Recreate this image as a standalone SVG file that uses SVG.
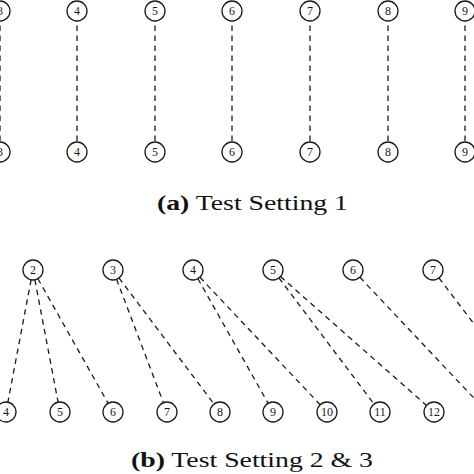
<svg xmlns="http://www.w3.org/2000/svg" width="474" height="474" viewBox="0 0 474 474">
<style>
.n circle{fill:#fff;stroke:#1a1a1a;stroke-width:1.3}
.n text{font-family:"Liberation Serif","DejaVu Serif",serif;font-size:12px;text-anchor:middle;fill:#1a1a1a}
#edges line{stroke:#1a1a1a;stroke-width:1.3;stroke-dasharray:5.5,4.5;fill:none}
.cap{font-family:"Liberation Serif","DejaVu Serif",serif;font-size:21px;fill:#111}
</style>
<rect width="474" height="474" fill="#fff"/>
<g id="edges">
<line x1="0" y1="141" x2="0" y2="21"/>
<line x1="77" y1="141" x2="77" y2="21"/>
<line x1="155" y1="141" x2="155" y2="21"/>
<line x1="232" y1="141" x2="232" y2="21"/>
<line x1="310" y1="141" x2="310" y2="21"/>
<line x1="388" y1="141" x2="388" y2="21"/>
<line x1="465" y1="141" x2="465" y2="21"/>
<line x1="31.1" y1="279.8" x2="7.9" y2="402.2"/>
<line x1="34.9" y1="279.8" x2="58.1" y2="402.2"/>
<line x1="37.9" y1="278.7" x2="108.1" y2="403.3"/>
<line x1="116.6" y1="279.3" x2="163.4" y2="402.7"/>
<line x1="119" y1="278" x2="214" y2="404"/>
<line x1="197.9" y1="278.7" x2="268.1" y2="403.3"/>
<line x1="199.9" y1="277.3" x2="320.1" y2="404.7"/>
<line x1="279" y1="278" x2="374" y2="404"/>
<line x1="280.5" y1="276.6" x2="426.5" y2="405.4"/>
<line x1="359.9" y1="277.3" x2="480.1" y2="404.7"/>
<line x1="439" y1="278" x2="535" y2="404"/>
</g>
<g id="a-top">
<g class="n" id="a3t"><circle cx="0" cy="11" r="10"/><text x="0" y="15">3</text></g>
<g class="n" id="a4t"><circle cx="77" cy="11" r="10"/><text x="77" y="15">4</text></g>
<g class="n" id="a5t"><circle cx="155" cy="11" r="10"/><text x="155" y="15">5</text></g>
<g class="n" id="a6t"><circle cx="232" cy="11" r="10"/><text x="232" y="15">6</text></g>
<g class="n" id="a7t"><circle cx="310" cy="11" r="10"/><text x="310" y="15">7</text></g>
<g class="n" id="a8t"><circle cx="388" cy="11" r="10"/><text x="388" y="15">8</text></g>
<g class="n" id="a9t"><circle cx="465" cy="11" r="10"/><text x="465" y="15">9</text></g>
</g>
<g id="a-bot">
<g class="n" id="a3b"><circle cx="0" cy="152" r="10"/><text x="0" y="156">3</text></g>
<g class="n" id="a4b"><circle cx="77" cy="152" r="10"/><text x="77" y="156">4</text></g>
<g class="n" id="a5b"><circle cx="155" cy="152" r="10"/><text x="155" y="156">5</text></g>
<g class="n" id="a6b"><circle cx="232" cy="152" r="10"/><text x="232" y="156">6</text></g>
<g class="n" id="a7b"><circle cx="310" cy="152" r="10"/><text x="310" y="156">7</text></g>
<g class="n" id="a8b"><circle cx="388" cy="152" r="10"/><text x="388" y="156">8</text></g>
<g class="n" id="a9b"><circle cx="465" cy="152" r="10"/><text x="465" y="156">9</text></g>
</g>
<text class="cap" x="157" y="210" textLength="191" lengthAdjust="spacingAndGlyphs"><tspan font-weight="bold">(a)</tspan> Test Setting 1</text>
<g id="b-top">
<g class="n" id="b2t"><circle cx="33" cy="270" r="10"/><text x="33" y="274">2</text></g>
<g class="n" id="b3t"><circle cx="113" cy="270" r="10"/><text x="113" y="274">3</text></g>
<g class="n" id="b4t"><circle cx="193" cy="270" r="10"/><text x="193" y="274">4</text></g>
<g class="n" id="b5t"><circle cx="273" cy="270" r="10"/><text x="273" y="274">5</text></g>
<g class="n" id="b6t"><circle cx="353" cy="270" r="10"/><text x="353" y="274">6</text></g>
<g class="n" id="b7t"><circle cx="433" cy="270" r="10"/><text x="433" y="274">7</text></g>
</g>
<g id="b-bot">
<g class="n" id="b4b"><circle cx="6" cy="412" r="10"/><text x="6" y="416">4</text></g>
<g class="n" id="b5b"><circle cx="60" cy="412" r="10"/><text x="60" y="416">5</text></g>
<g class="n" id="b6b"><circle cx="113" cy="412" r="10"/><text x="113" y="416">6</text></g>
<g class="n" id="b7b"><circle cx="167" cy="412" r="10"/><text x="167" y="416">7</text></g>
<g class="n" id="b8b"><circle cx="220" cy="412" r="10"/><text x="220" y="416">8</text></g>
<g class="n" id="b9b"><circle cx="273" cy="412" r="10"/><text x="273" y="416">9</text></g>
<g class="n" id="b10b"><circle cx="327" cy="412" r="10"/><text x="327" y="416">10</text></g>
<g class="n" id="b11b"><circle cx="380" cy="412" r="10"/><text x="380" y="416">11</text></g>
<g class="n" id="b12b"><circle cx="434" cy="412" r="10"/><text x="434" y="416">12</text></g>
</g>
<text class="cap" x="131" y="467" textLength="242" lengthAdjust="spacingAndGlyphs"><tspan font-weight="bold">(b)</tspan> Test Setting 2 &amp; 3</text>
</svg>
